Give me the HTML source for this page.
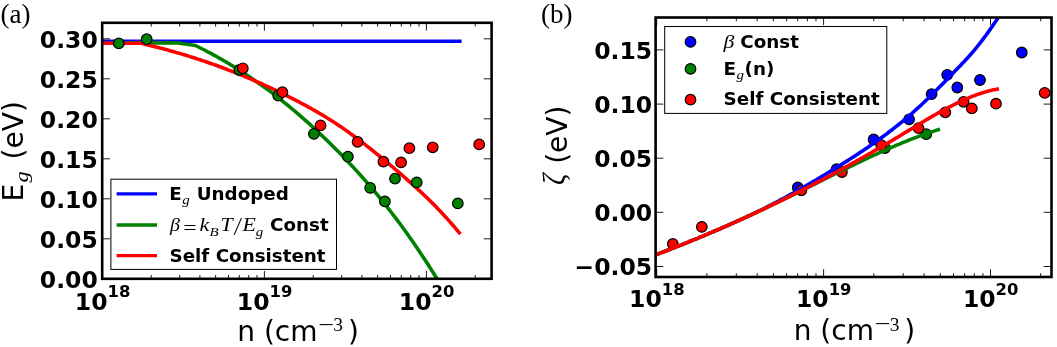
<!DOCTYPE html>
<html><head><meta charset="utf-8"><title>Figure</title>
<style>html,body{margin:0;padding:0;background:#fff}svg{display:block}</style></head>
<body>
<svg width="1057" height="347" viewBox="0 0 1057 347">
<rect width="1057" height="347" fill="#ffffff"/>
<defs><clipPath id="ca"><rect x="102.2" y="22.8" width="389.4" height="256.0"/></clipPath><clipPath id="cb"><rect x="655.6" y="17.5" width="395.9" height="259.5"/></clipPath></defs>
<g clip-path="url(#ca)" fill="none" stroke-width="3.6" stroke-linejoin="round" stroke-linecap="square">
<polyline points="102.2,41.3 459.8,41.3" stroke="#0000ff"/>
<polyline points="102.2,43.2 147.0,42.6 178.0,43.0 195.4,45.5 197.4,46.5 199.4,47.5 201.4,48.5 203.4,49.5 205.4,50.5 207.4,51.6 209.4,52.6 211.4,53.7 213.4,54.8 215.4,55.9 217.4,57.0 219.4,58.2 221.4,59.3 223.4,60.5 225.4,61.6 227.4,62.8 229.4,64.0 231.4,65.2 233.4,66.4 235.4,67.7 237.4,68.9 239.4,70.2 241.4,71.5 243.4,72.8 245.4,74.1 247.4,75.4 249.4,76.8 251.4,78.1 253.4,79.5 255.4,80.9 257.4,82.2 259.4,83.7 261.4,85.1 263.4,86.5 265.4,88.0 267.4,89.4 269.4,90.9 271.4,92.4 273.4,93.9 275.4,95.5 277.4,97.0 279.4,98.6 281.4,100.2 283.4,101.8 285.4,103.4 287.4,105.0 289.4,106.6 291.4,108.3 293.4,110.0 295.4,111.7 297.4,113.4 299.4,115.1 301.4,116.8 303.4,118.6 305.4,120.3 307.4,122.1 309.4,123.9 311.4,125.8 313.4,127.6 315.4,129.4 317.4,131.3 319.4,133.2 321.4,135.1 323.4,137.0 325.4,138.9 327.4,140.8 329.4,142.8 331.4,144.7 333.4,146.7 335.4,148.7 337.4,150.7 339.4,152.7 341.4,154.8 343.4,156.9 345.4,158.9 347.4,161.0 349.4,163.2 351.4,165.3 353.4,167.4 355.4,169.6 357.4,171.8 359.4,174.0 361.4,176.3 363.4,178.5 365.4,180.8 367.4,183.1 369.4,185.4 371.4,187.8 373.4,190.1 375.4,192.5 377.4,194.9 379.4,197.4 381.4,199.8 383.4,202.3 385.4,204.8 387.4,207.3 389.4,209.9 391.4,212.5 393.4,215.1 395.4,217.7 397.4,220.4 399.4,223.0 401.4,225.7 403.4,228.5 405.4,231.2 407.4,234.0 409.4,236.9 411.4,239.7 413.4,242.6 415.4,245.5 417.4,248.4 419.4,251.4 421.4,254.4 423.4,257.4 425.4,260.5 427.4,263.6 429.4,266.7 431.4,269.9 433.4,273.0 435.4,276.3 437.4,279.5 439.4,282.8 440.0,283.8" stroke="#008000"/>
<polyline points="102.2,43.3 138.0,43.3 140.0,43.1 142.0,43.6 144.0,44.0 146.0,44.5 148.0,45.0 150.0,45.5 152.0,46.0 154.0,46.5 156.0,47.0 158.0,47.5 160.0,48.0 162.0,48.5 164.0,49.0 166.0,49.6 168.0,50.1 170.0,50.7 172.0,51.2 174.0,51.8 176.0,52.4 178.0,52.9 180.0,53.5 182.0,54.1 184.0,54.7 186.0,55.3 188.0,55.9 190.0,56.6 192.0,57.2 194.0,57.8 196.0,58.5 198.0,59.1 200.0,59.8 202.0,60.5 204.0,61.1 206.0,61.8 208.0,62.5 210.0,63.2 212.0,63.9 214.0,64.6 216.0,65.3 218.0,66.0 220.0,66.8 222.0,67.5 224.0,68.3 226.0,69.0 228.0,69.8 230.0,70.6 232.0,71.3 234.0,72.1 236.0,72.9 238.0,73.7 240.0,74.5 242.0,75.3 244.0,76.2 246.0,77.0 248.0,77.8 250.0,78.7 252.0,79.5 254.0,80.4 256.0,81.3 258.0,82.2 260.0,83.0 262.0,83.9 264.0,84.8 266.0,85.8 268.0,86.7 270.0,87.6 272.0,88.5 274.0,89.5 276.0,90.4 278.0,91.4 280.0,92.4 282.0,93.3 284.0,94.3 286.0,95.3 288.0,96.3 290.0,97.3 292.0,98.3 294.0,99.4 296.0,100.4 298.0,101.4 300.0,102.5 302.0,103.6 304.0,104.6 306.0,105.7 308.0,106.8 310.0,107.9 312.0,109.0 314.0,110.2 316.0,111.3 318.0,112.5 320.0,113.6 322.0,114.8 324.0,116.0 326.0,117.3 328.0,118.5 330.0,119.7 332.0,121.0 334.0,122.3 336.0,123.6 338.0,124.9 340.0,126.3 342.0,127.6 344.0,129.0 346.0,130.4 348.0,131.8 350.0,133.3 352.0,134.7 354.0,136.2 356.0,137.7 358.0,139.2 360.0,140.7 362.0,142.2 364.0,143.7 366.0,145.3 368.0,146.9 370.0,148.4 372.0,150.0 374.0,151.6 376.0,153.3 378.0,154.9 380.0,156.5 382.0,158.2 384.0,159.8 386.0,161.5 388.0,163.2 390.0,164.9 392.0,166.5 394.0,168.2 396.0,170.0 398.0,171.7 400.0,173.4 402.0,175.1 404.0,176.8 406.0,178.6 408.0,180.4 410.0,182.1 412.0,183.9 414.0,185.7 416.0,187.5 418.0,189.4 420.0,191.2 422.0,193.1 424.0,195.0 426.0,196.9 428.0,198.8 430.0,200.8 432.0,202.8 434.0,204.8 436.0,206.8 438.0,208.9 440.0,211.0 442.0,213.1 444.0,215.3 446.0,217.4 448.0,219.6 450.0,221.9 452.0,224.2 454.0,226.5 456.0,228.9 458.0,231.3 459.3,232.8" stroke="#ff0000"/>
</g>
<g clip-path="url(#ca)"><circle cx="118.8" cy="43.4" r="5.3" fill="#008000" stroke="#000" stroke-width="1.2"/><circle cx="146.7" cy="39.2" r="5.3" fill="#008000" stroke="#000" stroke-width="1.2"/><circle cx="239.4" cy="70.0" r="5.3" fill="#008000" stroke="#000" stroke-width="1.2"/><circle cx="278.2" cy="95.6" r="5.3" fill="#008000" stroke="#000" stroke-width="1.2"/><circle cx="313.9" cy="133.9" r="5.3" fill="#008000" stroke="#000" stroke-width="1.2"/><circle cx="347.9" cy="156.7" r="5.3" fill="#008000" stroke="#000" stroke-width="1.2"/><circle cx="370.2" cy="187.9" r="5.3" fill="#008000" stroke="#000" stroke-width="1.2"/><circle cx="384.9" cy="201.4" r="5.3" fill="#008000" stroke="#000" stroke-width="1.2"/><circle cx="395.0" cy="178.7" r="5.3" fill="#008000" stroke="#000" stroke-width="1.2"/><circle cx="416.7" cy="182.4" r="5.3" fill="#008000" stroke="#000" stroke-width="1.2"/><circle cx="457.8" cy="203.4" r="5.3" fill="#008000" stroke="#000" stroke-width="1.2"/><circle cx="242.8" cy="68.3" r="5.3" fill="#ff0000" stroke="#000" stroke-width="1.2"/><circle cx="282.4" cy="92.2" r="5.3" fill="#ff0000" stroke="#000" stroke-width="1.2"/><circle cx="320.5" cy="125.4" r="5.3" fill="#ff0000" stroke="#000" stroke-width="1.2"/><circle cx="357.6" cy="141.9" r="5.3" fill="#ff0000" stroke="#000" stroke-width="1.2"/><circle cx="383.4" cy="161.7" r="5.3" fill="#ff0000" stroke="#000" stroke-width="1.2"/><circle cx="401.1" cy="162.4" r="5.3" fill="#ff0000" stroke="#000" stroke-width="1.2"/><circle cx="409.4" cy="148.2" r="5.3" fill="#ff0000" stroke="#000" stroke-width="1.2"/><circle cx="432.7" cy="147.3" r="5.3" fill="#ff0000" stroke="#000" stroke-width="1.2"/><circle cx="479.2" cy="144.4" r="5.3" fill="#ff0000" stroke="#000" stroke-width="1.2"/></g>
<path d="M102.4 278.8v-7.8 M102.4 22.8v7.8 M151.2 278.8v-3.8 M151.2 22.8v3.8 M179.7 278.8v-3.8 M179.7 22.8v3.8 M199.9 278.8v-3.8 M199.9 22.8v3.8 M215.6 278.8v-3.8 M215.6 22.8v3.8 M228.5 278.8v-3.8 M228.5 22.8v3.8 M239.3 278.8v-3.8 M239.3 22.8v3.8 M248.7 278.8v-3.8 M248.7 22.8v3.8 M257.0 278.8v-3.8 M257.0 22.8v3.8 M264.4 278.8v-7.8 M264.4 22.8v7.8 M313.2 278.8v-3.8 M313.2 22.8v3.8 M341.7 278.8v-3.8 M341.7 22.8v3.8 M361.9 278.8v-3.8 M361.9 22.8v3.8 M377.6 278.8v-3.8 M377.6 22.8v3.8 M390.5 278.8v-3.8 M390.5 22.8v3.8 M401.3 278.8v-3.8 M401.3 22.8v3.8 M410.7 278.8v-3.8 M410.7 22.8v3.8 M419.0 278.8v-3.8 M419.0 22.8v3.8 M426.4 278.8v-7.8 M426.4 22.8v7.8 M475.2 278.8v-3.8 M475.2 22.8v3.8" stroke="#000" stroke-width="0.9" fill="none"/>
<path d="M102.2 278.8h7.8 M491.6 278.8h-7.8 M102.2 238.8h7.8 M491.6 238.8h-7.8 M102.2 198.8h7.8 M491.6 198.8h-7.8 M102.2 158.8h7.8 M491.6 158.8h-7.8 M102.2 118.8h7.8 M491.6 118.8h-7.8 M102.2 78.8h7.8 M491.6 78.8h-7.8 M102.2 38.8h7.8 M491.6 38.8h-7.8" stroke="#000" stroke-width="0.9" fill="none"/>
<rect x="102.2" y="22.8" width="389.4" height="256.0" fill="none" stroke="#000" stroke-width="2.6"/>
<text x="97.8" y="287.7" font-family="'DejaVu Sans','Liberation Sans',sans-serif" font-size="23.5" font-weight="bold" text-anchor="end">0.00</text>
<text x="97.8" y="247.7" font-family="'DejaVu Sans','Liberation Sans',sans-serif" font-size="23.5" font-weight="bold" text-anchor="end">0.05</text>
<text x="97.8" y="207.7" font-family="'DejaVu Sans','Liberation Sans',sans-serif" font-size="23.5" font-weight="bold" text-anchor="end">0.10</text>
<text x="97.8" y="167.7" font-family="'DejaVu Sans','Liberation Sans',sans-serif" font-size="23.5" font-weight="bold" text-anchor="end">0.15</text>
<text x="97.8" y="127.7" font-family="'DejaVu Sans','Liberation Sans',sans-serif" font-size="23.5" font-weight="bold" text-anchor="end">0.20</text>
<text x="97.8" y="87.7" font-family="'DejaVu Sans','Liberation Sans',sans-serif" font-size="23.5" font-weight="bold" text-anchor="end">0.25</text>
<text x="97.8" y="47.7" font-family="'DejaVu Sans','Liberation Sans',sans-serif" font-size="23.5" font-weight="bold" text-anchor="end">0.30</text>
<text x="74.8" y="309.5" font-family="'DejaVu Sans','Liberation Sans',sans-serif" font-weight="bold" font-size="23.5">10<tspan dy="-12.3" font-size="16.4">18</tspan></text>
<text x="236.8" y="309.5" font-family="'DejaVu Sans','Liberation Sans',sans-serif" font-weight="bold" font-size="23.5">10<tspan dy="-12.3" font-size="16.4">19</tspan></text>
<text x="398.8" y="309.5" font-family="'DejaVu Sans','Liberation Sans',sans-serif" font-weight="bold" font-size="23.5">10<tspan dy="-12.3" font-size="16.4">20</tspan></text>
<text x="237.3" y="340.8" font-family="'DejaVu Sans','Liberation Sans',sans-serif" font-size="28.0">n (cm</text><text transform="translate(318.3,331.6) scale(1.280,1)" font-family="'Liberation Serif','DejaVu Serif',serif" font-size="22.0">−</text><text transform="translate(333.3,331.2) scale(1.000,1)" font-family="'Liberation Serif','DejaVu Serif',serif" font-size="19.5">3</text><text x="347.9" y="340.8" font-family="'DejaVu Sans','Liberation Sans',sans-serif" font-size="28.0">)</text>
<g transform="translate(23.2,201.4) rotate(-90)"><text x="0.0" y="0.0" font-family="'DejaVu Sans','Liberation Sans',sans-serif" font-size="28.0">E</text><text transform="translate(18.8,4.6) scale(1.150,1)" font-family="'Liberation Serif','DejaVu Serif',serif" font-size="19.5" font-style="italic">g</text><text x="42.0" y="0.0" font-family="'DejaVu Sans','Liberation Sans',sans-serif" font-size="28.0">(eV)</text></g>
<text x="0.6" y="22.5" font-family="'Liberation Serif','DejaVu Serif',serif" font-size="27.0">(a)</text>
<rect x="110.9" y="179.2" width="225.6" height="90.2" fill="#fff" stroke="#000" stroke-width="1"/>
<path d="M116.6 193.9H157" stroke="#0000ff" stroke-width="3.4" fill="none"/>
<path d="M116.6 225.0H157" stroke="#008000" stroke-width="3.4" fill="none"/>
<path d="M116.6 255.6H157" stroke="#ff0000" stroke-width="3.4" fill="none"/>
<text x="169.2" y="200.4" font-family="'DejaVu Sans','Liberation Sans',sans-serif" font-size="18.3" font-weight="bold">E</text><text transform="translate(182.2,204.4) scale(1.150,1)" font-family="'Liberation Serif','DejaVu Serif',serif" font-size="13.0" font-style="italic">g</text><text x="196.7" y="200.4" font-family="'DejaVu Sans','Liberation Sans',sans-serif" font-size="18.3" font-weight="bold">Undoped</text>
<text transform="translate(170.1,231.3) scale(1.050,1)" font-family="'Liberation Serif','DejaVu Serif',serif" font-size="19.0" font-style="italic">β</text><text transform="translate(183.2,233.7) scale(1.250,1)" font-family="'Liberation Serif','DejaVu Serif',serif" font-size="19.0">=</text><text transform="translate(199.6,231.3) scale(1.150,1)" font-family="'Liberation Serif','DejaVu Serif',serif" font-size="19.0" font-style="italic">k</text><text transform="translate(209.4,235.5) scale(1.150,1)" font-family="'Liberation Serif','DejaVu Serif',serif" font-size="13.0" font-style="italic">B</text><text transform="translate(220.5,231.3) scale(1.150,1)" font-family="'Liberation Serif','DejaVu Serif',serif" font-size="19.0" font-style="italic">T</text><text transform="translate(234.6,235.0) scale(0.850,1)" font-family="'Liberation Serif','DejaVu Serif',serif" font-size="25.0" font-style="italic">/</text><text transform="translate(242.5,231.3) scale(1.150,1)" font-family="'Liberation Serif','DejaVu Serif',serif" font-size="19.0" font-style="italic">E</text><text transform="translate(255.8,235.5) scale(1.150,1)" font-family="'Liberation Serif','DejaVu Serif',serif" font-size="13.0" font-style="italic">g</text><text x="270.1" y="231.3" font-family="'DejaVu Sans','Liberation Sans',sans-serif" font-size="18.3" font-weight="bold">Const</text>
<text x="169.5" y="261.5" font-family="'DejaVu Sans','Liberation Sans',sans-serif" font-size="18.3" font-weight="bold">Self Consistent</text>
<g clip-path="url(#cb)"><circle cx="797.8" cy="187.5" r="5.3" fill="#0000ff" stroke="#000" stroke-width="1.2"/><circle cx="836.6" cy="169.1" r="5.3" fill="#0000ff" stroke="#000" stroke-width="1.2"/><circle cx="873.6" cy="139.5" r="5.3" fill="#0000ff" stroke="#000" stroke-width="1.2"/><circle cx="909.1" cy="119.3" r="5.3" fill="#0000ff" stroke="#000" stroke-width="1.2"/><circle cx="931.6" cy="94.1" r="5.3" fill="#0000ff" stroke="#000" stroke-width="1.2"/><circle cx="947.2" cy="74.8" r="5.3" fill="#0000ff" stroke="#000" stroke-width="1.2"/><circle cx="957.3" cy="87.5" r="5.3" fill="#0000ff" stroke="#000" stroke-width="1.2"/><circle cx="980.0" cy="80.0" r="5.3" fill="#0000ff" stroke="#000" stroke-width="1.2"/><circle cx="1021.8" cy="52.5" r="5.3" fill="#0000ff" stroke="#000" stroke-width="1.2"/><circle cx="884.9" cy="148.0" r="5.3" fill="#008000" stroke="#000" stroke-width="1.2"/><circle cx="926.2" cy="134.2" r="5.3" fill="#008000" stroke="#000" stroke-width="1.2"/><circle cx="672.8" cy="244.0" r="5.3" fill="#ff0000" stroke="#000" stroke-width="1.2"/><circle cx="701.8" cy="226.9" r="5.3" fill="#ff0000" stroke="#000" stroke-width="1.2"/><circle cx="801.3" cy="190.3" r="5.3" fill="#ff0000" stroke="#000" stroke-width="1.2"/><circle cx="841.9" cy="172.0" r="5.3" fill="#ff0000" stroke="#000" stroke-width="1.2"/><circle cx="881.3" cy="145.2" r="5.3" fill="#ff0000" stroke="#000" stroke-width="1.2"/><circle cx="918.5" cy="128.1" r="5.3" fill="#ff0000" stroke="#000" stroke-width="1.2"/><circle cx="945.3" cy="112.3" r="5.3" fill="#ff0000" stroke="#000" stroke-width="1.2"/><circle cx="963.6" cy="101.8" r="5.3" fill="#ff0000" stroke="#000" stroke-width="1.2"/><circle cx="971.8" cy="108.4" r="5.3" fill="#ff0000" stroke="#000" stroke-width="1.2"/><circle cx="996.0" cy="103.7" r="5.3" fill="#ff0000" stroke="#000" stroke-width="1.2"/><circle cx="1044.7" cy="92.9" r="5.3" fill="#ff0000" stroke="#000" stroke-width="1.2"/></g>
<g clip-path="url(#cb)" fill="none" stroke-width="3.6" stroke-linejoin="round" stroke-linecap="square">
<polyline points="655.6,254.8 657.6,254.1 659.6,253.3 661.6,252.6 663.6,251.8 665.6,251.0 667.6,250.3 669.6,249.5 671.6,248.7 673.6,247.9 675.6,247.1 677.6,246.4 679.6,245.6 681.6,244.8 683.6,244.0 685.6,243.2 687.6,242.4 689.6,241.5 691.6,240.7 693.6,239.9 695.6,239.1 697.6,238.3 699.6,237.4 701.6,236.6 703.6,235.8 705.6,234.9 707.6,234.1 709.6,233.2 711.6,232.4 713.6,231.5 715.6,230.7 717.6,229.8 719.6,229.0 721.6,228.1 723.6,227.2 725.6,226.3 727.6,225.5 729.6,224.6 731.6,223.7 733.6,222.8 735.6,221.9 737.6,221.0 739.6,220.1 740.0,219.9 742.0,219.0 744.0,218.1 746.0,217.2 748.0,216.2 750.0,215.3 752.0,214.3 754.0,213.4 756.0,212.4 758.0,211.4 760.0,210.5 762.0,209.5 764.0,208.5 766.0,207.5 768.0,206.4 770.0,205.4 772.0,204.4 774.0,203.4 776.0,202.3 778.0,201.3 780.0,200.2 782.0,199.1 784.0,198.1 786.0,197.0 788.0,195.9 790.0,194.8 792.0,193.7 794.0,192.6 796.0,191.5 798.0,190.3 800.0,189.2 802.0,188.1 804.0,186.9 806.0,185.8 808.0,184.6 810.0,183.5 812.0,182.3 814.0,181.1 816.0,180.0 818.0,178.8 820.0,177.6 822.0,176.4 824.0,175.2 826.0,174.0 828.0,172.8 830.0,171.6 832.0,170.3 834.0,169.1 836.0,167.9 838.0,166.6 840.0,165.4 842.0,164.1 844.0,162.9 846.0,161.6 848.0,160.4 850.0,159.1 852.0,157.8 854.0,156.5 856.0,155.2 858.0,153.9 860.0,152.6 862.0,151.3 864.0,149.9 866.0,148.6 868.0,147.2 870.0,145.8 872.0,144.4 874.0,143.0 876.0,141.6 878.0,140.2 880.0,138.8 882.0,137.3 884.0,135.8 886.0,134.4 888.0,132.8 890.0,131.3 892.0,129.8 894.0,128.2 896.0,126.6 898.0,125.0 900.0,123.4 902.0,121.8 904.0,120.1 906.0,118.5 908.0,116.8 910.0,115.0 912.0,113.3 914.0,111.5 916.0,109.7 918.0,107.9 920.0,106.1 922.0,104.2 924.0,102.3 926.0,100.4 928.0,98.5 930.0,96.5 932.0,94.5 934.0,92.5 936.0,90.5 938.0,88.5 940.0,86.5 942.0,84.5 944.0,82.4 946.0,80.4 948.0,78.3 950.0,76.2 952.0,74.2 954.0,72.1 956.0,70.0 958.0,67.9 960.0,65.9 962.0,63.8 964.0,61.7 966.0,59.5 968.0,57.4 970.0,55.2 972.0,52.9 974.0,50.6 976.0,48.2 978.0,45.7 980.0,43.2 982.0,40.6 984.0,37.9 986.0,35.2 988.0,32.4 990.0,29.6 992.0,26.7 994.0,23.8 996.0,21.0 998.0,18.1 1000.0,15.2 1002.0,12.3 1003.9,9.6" stroke="#0000ff"/>
<polyline points="655.6,254.8 657.6,254.1 659.6,253.3 661.6,252.6 663.6,251.8 665.6,251.0 667.6,250.3 669.6,249.5 671.6,248.7 673.6,247.9 675.6,247.1 677.6,246.4 679.6,245.6 681.6,244.8 683.6,244.0 685.6,243.2 687.6,242.4 689.6,241.5 691.6,240.7 693.6,239.9 695.6,239.1 697.6,238.3 699.6,237.4 701.6,236.6 703.6,235.8 705.6,234.9 707.6,234.1 709.6,233.2 711.6,232.4 713.6,231.5 715.6,230.7 717.6,229.8 719.6,229.0 721.6,228.1 723.6,227.2 725.6,226.3 727.6,225.5 729.6,224.6 731.6,223.7 733.6,222.8 735.6,221.9 737.6,221.0 739.6,220.1 741.6,219.2 743.6,218.3 745.6,217.4 747.6,216.5 749.6,215.6 751.6,214.6 753.6,213.7 755.6,212.8 757.6,211.8 759.6,210.9 761.6,210.0 763.6,209.0 765.6,208.1 767.6,207.1 769.6,206.2 771.6,205.2 773.6,204.2 775.6,203.3 777.6,202.3 779.6,201.3 780.0,201.1 782.0,200.1 784.0,199.2 786.0,198.2 788.0,197.3 790.0,196.3 792.0,195.3 794.0,194.3 796.0,193.4 798.0,192.4 800.0,191.4 802.0,190.4 804.0,189.4 806.0,188.4 808.0,187.4 810.0,186.4 812.0,185.4 814.0,184.4 816.0,183.5 818.0,182.5 820.0,181.5 822.0,180.5 824.0,179.5 826.0,178.5 828.0,177.5 830.0,176.5 832.0,175.5 834.0,174.5 836.0,173.5 838.0,172.5 840.0,171.5 842.0,170.5 844.0,169.5 846.0,168.6 848.0,167.6 850.0,166.6 852.0,165.6 854.0,164.7 856.0,163.7 858.0,162.7 860.0,161.8 862.0,160.8 864.0,159.9 866.0,158.9 868.0,158.0 870.0,157.0 872.0,156.1 874.0,155.2 876.0,154.3 878.0,153.4 880.0,152.4 882.0,151.5 884.0,150.7 886.0,149.8 888.0,148.9 890.0,148.0 892.0,147.1 894.0,146.3 896.0,145.4 898.0,144.6 900.0,143.8 902.0,142.9 904.0,142.1 906.0,141.3 908.0,140.5 910.0,139.7 912.0,138.9 914.0,138.2 916.0,137.4 918.0,136.7 920.0,135.9 922.0,135.2 924.0,134.5 926.0,133.8 928.0,133.1 930.0,132.4 932.0,131.7 934.0,131.1 936.0,130.4 938.0,129.8 938.3,129.7" stroke="#008000"/>
<polyline points="655.6,254.8 657.6,254.1 659.6,253.3 661.6,252.6 663.6,251.8 665.6,251.0 667.6,250.3 669.6,249.5 671.6,248.7 673.6,247.9 675.6,247.1 677.6,246.4 679.6,245.6 681.6,244.8 683.6,244.0 685.6,243.2 687.6,242.4 689.6,241.5 691.6,240.7 693.6,239.9 695.6,239.1 697.6,238.3 699.6,237.4 701.6,236.6 703.6,235.8 705.6,234.9 707.6,234.1 709.6,233.2 711.6,232.4 713.6,231.5 715.6,230.7 717.6,229.8 719.6,229.0 721.6,228.1 723.6,227.2 725.6,226.3 727.6,225.5 729.6,224.6 731.6,223.7 733.6,222.8 735.6,221.9 737.6,221.0 739.6,220.1 741.6,219.2 743.6,218.3 745.6,217.4 747.6,216.5 749.6,215.6 751.6,214.6 753.6,213.7 755.6,212.8 757.6,211.8 759.6,210.9 761.6,210.0 763.6,209.0 765.6,208.1 767.6,207.1 769.6,206.2 771.6,205.2 773.6,204.2 775.6,203.3 777.6,202.3 779.6,201.3 781.6,200.4 783.6,199.4 785.6,198.4 787.6,197.4 789.6,196.4 791.6,195.4 793.6,194.4 795.6,193.4 797.6,192.4 799.6,191.4 801.6,190.4 803.6,189.4 805.6,188.3 807.6,187.3 809.6,186.3 811.6,185.2 813.6,184.2 815.6,183.2 817.6,182.1 819.6,181.1 821.6,180.0 823.6,179.0 825.6,177.9 827.6,176.8 829.6,175.8 831.6,174.7 833.6,173.6 835.6,172.5 837.6,171.5 839.6,170.4 841.6,169.3 843.6,168.2 845.6,167.1 847.6,166.0 849.6,164.9 851.6,163.8 853.6,162.7 855.6,161.5 857.6,160.4 859.6,159.3 861.6,158.2 863.6,157.0 865.6,155.9 867.6,154.7 869.6,153.6 871.6,152.5 873.6,151.3 875.6,150.1 877.6,149.0 879.6,147.8 881.6,146.7 883.6,145.5 885.6,144.3 887.6,143.1 889.6,141.9 891.6,140.8 893.6,139.6 895.6,138.4 897.6,137.2 899.6,136.0 901.6,134.8 903.6,133.5 905.6,132.3 907.6,131.1 909.6,129.9 911.6,128.7 913.6,127.5 915.6,126.3 917.6,125.1 919.6,123.9 921.6,122.7 923.6,121.5 925.6,120.3 927.6,119.1 929.6,117.9 931.6,116.7 933.6,115.6 935.6,114.5 937.6,113.3 939.6,112.2 941.6,111.1 943.6,110.0 945.6,108.9 947.6,107.9 949.6,106.8 951.6,105.8 953.6,104.8 955.6,103.8 957.6,102.8 959.6,101.9 961.6,100.9 963.6,100.0 965.6,99.2 967.6,98.3 969.6,97.5 971.6,96.7 973.6,95.9 975.6,95.2 977.6,94.4 979.6,93.7 981.6,93.1 983.6,92.5 985.6,91.9 987.6,91.3 989.6,90.8 991.6,90.3 993.6,89.8 995.6,89.4 997.2,89.1" stroke="#ff0000"/>
</g>
<path d="M656.7 277.0v-7.8 M656.7 17.5v7.8 M706.9 277.0v-3.8 M706.9 17.5v3.8 M736.3 277.0v-3.8 M736.3 17.5v3.8 M757.2 277.0v-3.8 M757.2 17.5v3.8 M773.4 277.0v-3.8 M773.4 17.5v3.8 M786.6 277.0v-3.8 M786.6 17.5v3.8 M797.7 277.0v-3.8 M797.7 17.5v3.8 M807.4 277.0v-3.8 M807.4 17.5v3.8 M816.0 277.0v-3.8 M816.0 17.5v3.8 M823.6 277.0v-7.8 M823.6 17.5v7.8 M873.8 277.0v-3.8 M873.8 17.5v3.8 M903.2 277.0v-3.8 M903.2 17.5v3.8 M924.1 277.0v-3.8 M924.1 17.5v3.8 M940.3 277.0v-3.8 M940.3 17.5v3.8 M953.5 277.0v-3.8 M953.5 17.5v3.8 M964.6 277.0v-3.8 M964.6 17.5v3.8 M974.3 277.0v-3.8 M974.3 17.5v3.8 M982.9 277.0v-3.8 M982.9 17.5v3.8 M990.5 277.0v-7.8 M990.5 17.5v7.8 M1040.7 277.0v-3.8 M1040.7 17.5v3.8" stroke="#000" stroke-width="0.9" fill="none"/>
<path d="M655.6 266.5h7.8 M1051.5 266.5h-7.8 M655.6 212.3h7.8 M1051.5 212.3h-7.8 M655.6 158.2h7.8 M1051.5 158.2h-7.8 M655.6 104.1h7.8 M1051.5 104.1h-7.8 M655.6 49.9h7.8 M1051.5 49.9h-7.8" stroke="#000" stroke-width="0.9" fill="none"/>
<rect x="655.6" y="17.5" width="395.9" height="259.5" fill="none" stroke="#000" stroke-width="2.6"/>
<text x="652.2" y="275.4" font-family="'DejaVu Sans','Liberation Sans',sans-serif" font-size="23.5" font-weight="bold" text-anchor="end">−0.05</text>
<text x="652.2" y="221.2" font-family="'DejaVu Sans','Liberation Sans',sans-serif" font-size="23.5" font-weight="bold" text-anchor="end">0.00</text>
<text x="652.2" y="167.1" font-family="'DejaVu Sans','Liberation Sans',sans-serif" font-size="23.5" font-weight="bold" text-anchor="end">0.05</text>
<text x="652.2" y="113.0" font-family="'DejaVu Sans','Liberation Sans',sans-serif" font-size="23.5" font-weight="bold" text-anchor="end">0.10</text>
<text x="652.2" y="58.8" font-family="'DejaVu Sans','Liberation Sans',sans-serif" font-size="23.5" font-weight="bold" text-anchor="end">0.15</text>
<text x="629.1" y="306.9" font-family="'DejaVu Sans','Liberation Sans',sans-serif" font-weight="bold" font-size="23.5">10<tspan dy="-12.3" font-size="16.4">18</tspan></text>
<text x="796.0" y="306.9" font-family="'DejaVu Sans','Liberation Sans',sans-serif" font-weight="bold" font-size="23.5">10<tspan dy="-12.3" font-size="16.4">19</tspan></text>
<text x="962.9" y="306.9" font-family="'DejaVu Sans','Liberation Sans',sans-serif" font-weight="bold" font-size="23.5">10<tspan dy="-12.3" font-size="16.4">20</tspan></text>
<text x="793.7" y="340.2" font-family="'DejaVu Sans','Liberation Sans',sans-serif" font-size="28.0">n (cm</text><text transform="translate(874.7,331.0) scale(1.280,1)" font-family="'Liberation Serif','DejaVu Serif',serif" font-size="22.0">−</text><text transform="translate(889.7,330.6) scale(1.000,1)" font-family="'Liberation Serif','DejaVu Serif',serif" font-size="19.5">3</text><text x="904.3" y="340.2" font-family="'DejaVu Sans','Liberation Sans',sans-serif" font-size="28.0">)</text>
<g transform="translate(566.8,186.5) rotate(-90)"><text transform="translate(1.5,-2.0) scale(0.880,1)" font-family="'Liberation Serif','DejaVu Serif',serif" font-size="32.0" font-style="italic">ζ</text><text x="22.7" y="0.0" font-family="'DejaVu Sans','Liberation Sans',sans-serif" font-size="28.0">(eV)</text></g>
<text x="540.9" y="22.7" font-family="'Liberation Serif','DejaVu Serif',serif" font-size="27.0">(b)</text>
<rect x="664.7" y="26.5" width="222.1" height="86.9" fill="#fff" stroke="#000" stroke-width="1"/>
<circle cx="690.5" cy="41.9" r="5.3" fill="#0000ff" stroke="#000" stroke-width="1.2"/><circle cx="690.5" cy="68.9" r="5.3" fill="#008000" stroke="#000" stroke-width="1.2"/><circle cx="690.5" cy="99.7" r="5.3" fill="#ff0000" stroke="#000" stroke-width="1.2"/>
<text transform="translate(723.5,47.7) scale(1.150,1)" font-family="'Liberation Serif','DejaVu Serif',serif" font-size="19.0" font-style="italic">β</text><text x="740.3" y="47.7" font-family="'DejaVu Sans','Liberation Sans',sans-serif" font-size="18.3" font-weight="bold">Const</text>
<text x="723.6" y="74.9" font-family="'DejaVu Sans','Liberation Sans',sans-serif" font-size="18.3" font-weight="bold">E</text><text transform="translate(736.6,78.9) scale(1.150,1)" font-family="'Liberation Serif','DejaVu Serif',serif" font-size="13.0" font-style="italic">g</text><text x="744.6" y="74.9" font-family="'DejaVu Sans','Liberation Sans',sans-serif" font-size="18.3" font-weight="bold">(n)</text>
<text x="723.6" y="105.2" font-family="'DejaVu Sans','Liberation Sans',sans-serif" font-size="18.3" font-weight="bold">Self Consistent</text>
</svg>
</body></html>
